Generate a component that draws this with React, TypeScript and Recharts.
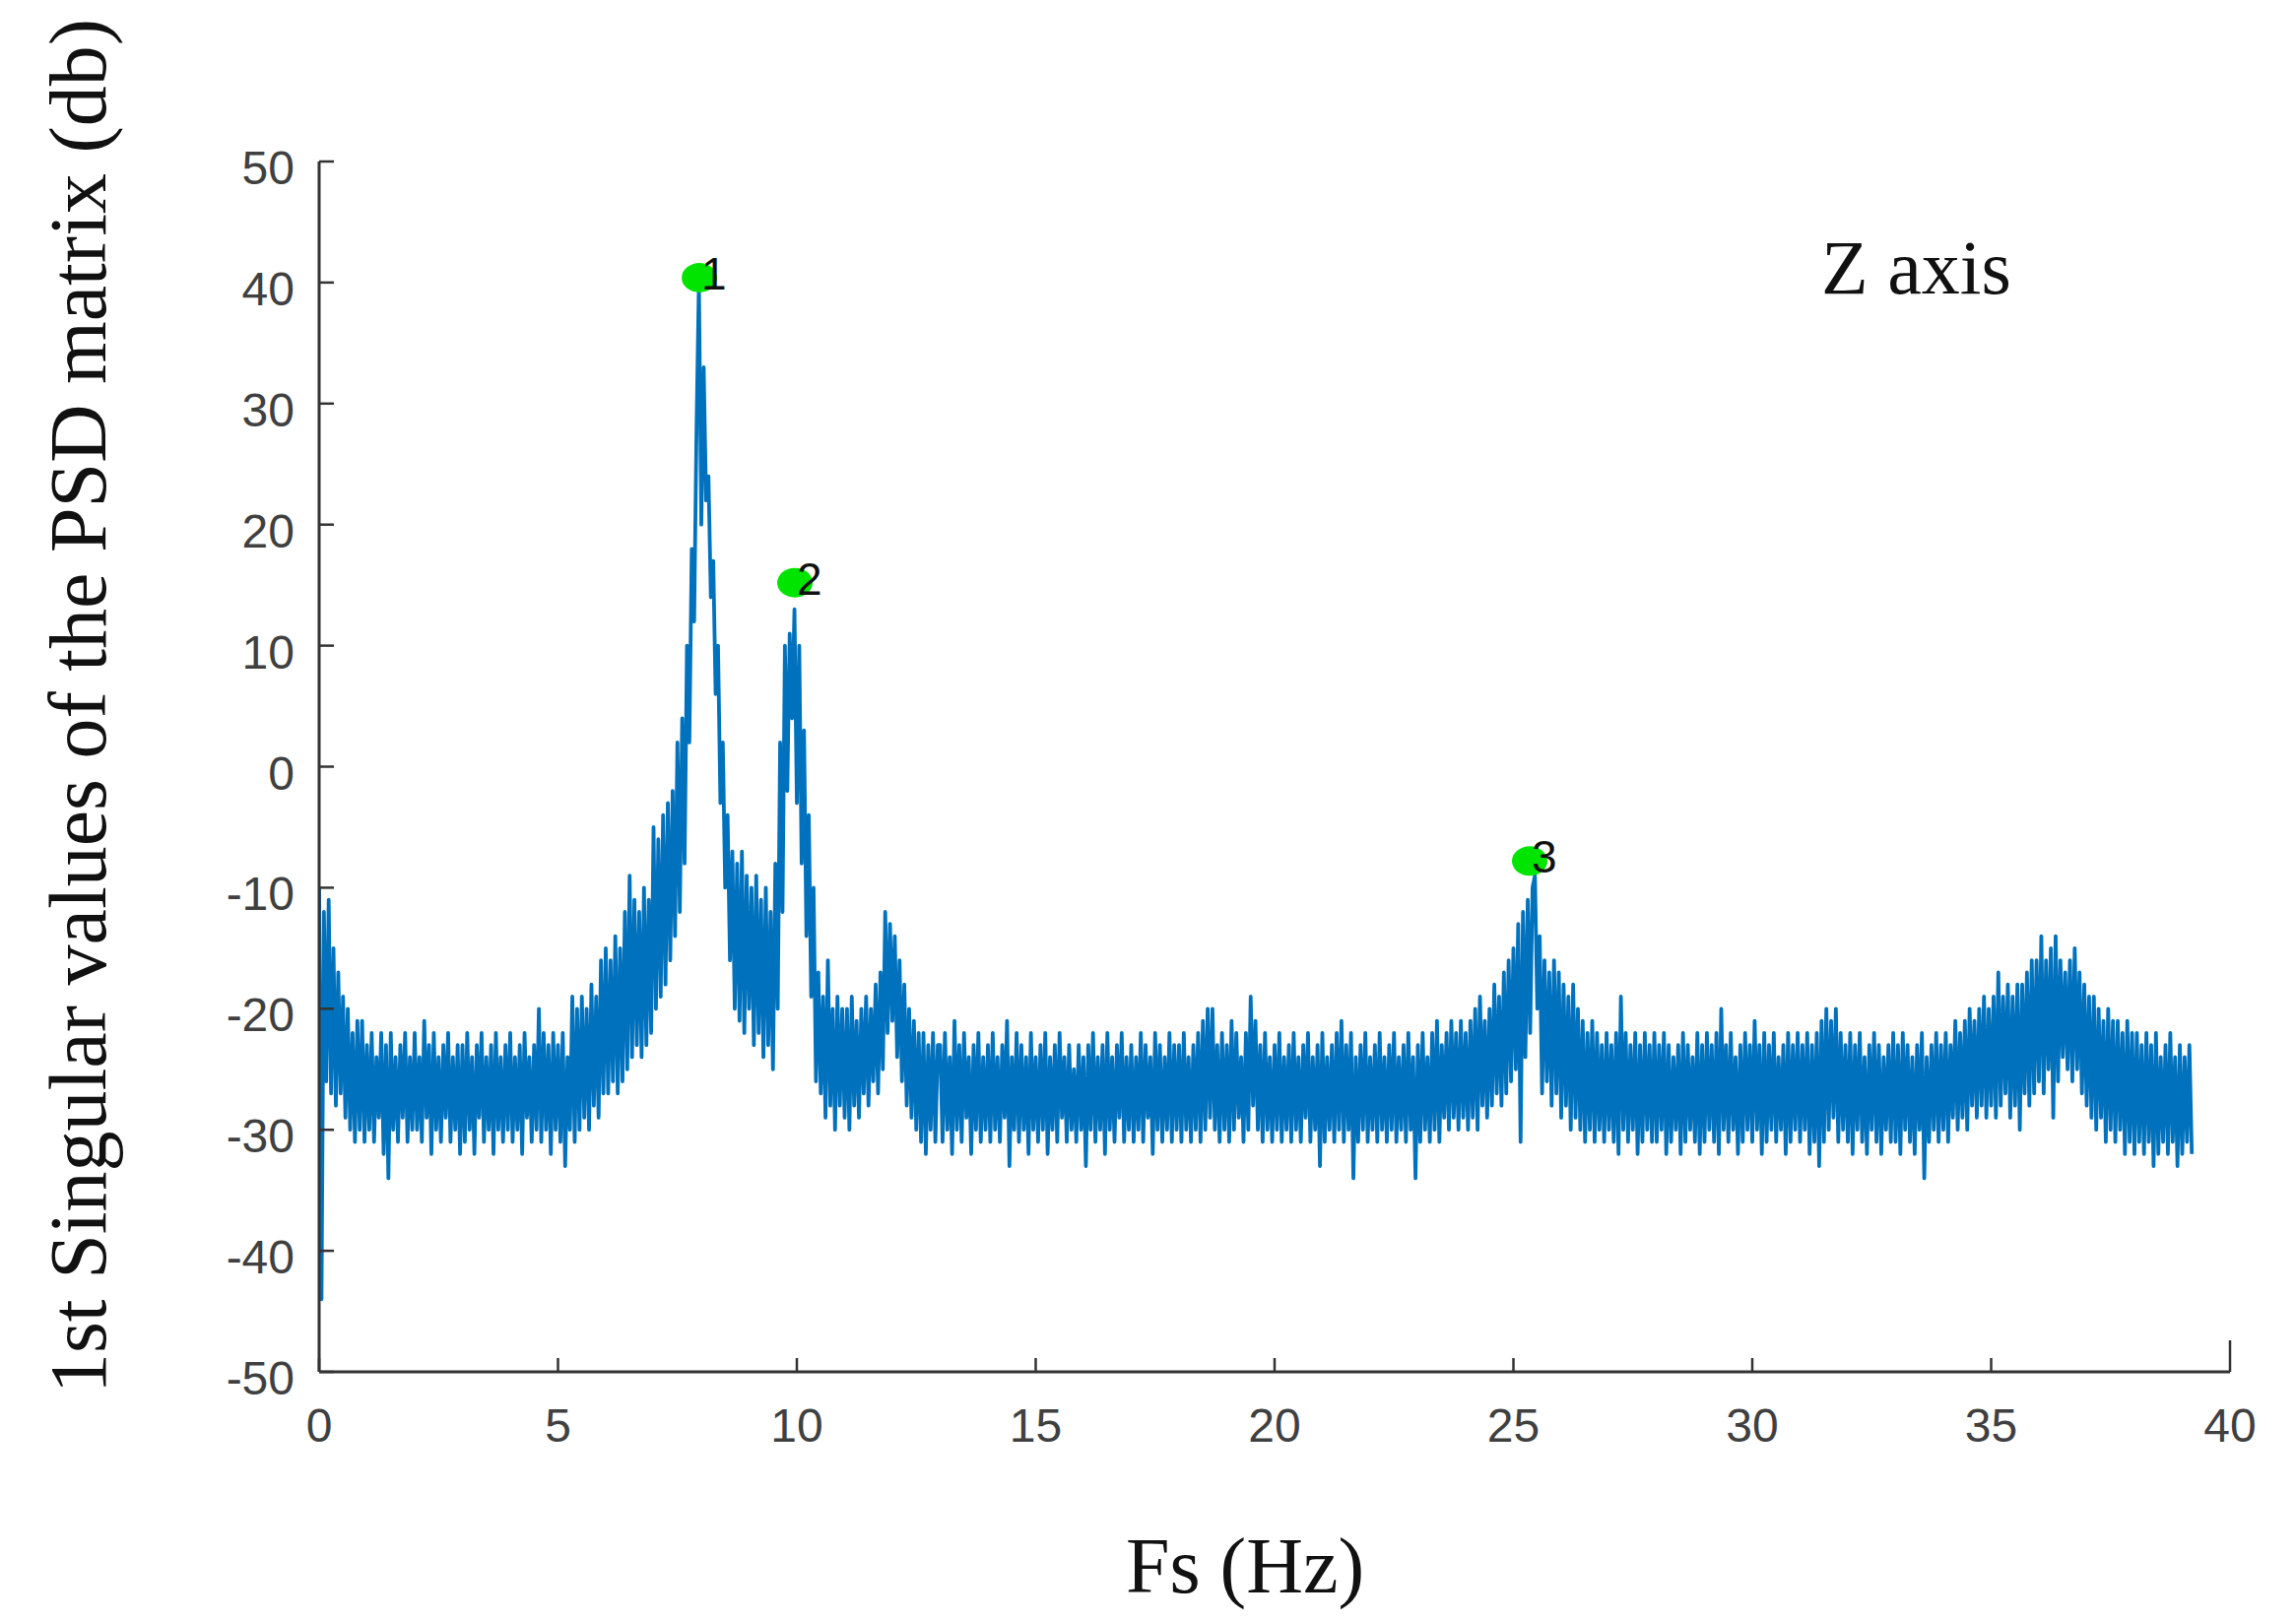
import React from 'react';
import {
  ComposedChart,
  Line,
  Scatter,
  XAxis,
  YAxis,
  Label,
  Customized,
} from 'recharts';

// frequency resolution of the spectrum (Hz per sample)
const FREQ_STEP = 0.05;

// 1st singular value of the PSD matrix (dB), one row per Hz (20 samples each)
const psdDb = [
  -10, -44, -12, -26, -11, -27, -15, -28, -17, -27, -19, -29, -20, -30, -22, -31, -21, -30, -21, -31, // 0
  -23, -30, -22, -31, -24, -29, -22, -32, -23, -34, -22, -30, -24, -31, -23, -29, -22, -31, -24, -30, // 1
  -22, -30, -24, -31, -21, -29, -23, -32, -22, -30, -24, -31, -23, -29, -22, -31, -24, -30, -23, -32, // 2
  -23, -31, -22, -30, -24, -32, -23, -29, -22, -31, -24, -30, -23, -32, -22, -30, -24, -31, -23, -30, // 3
  -22, -31, -24, -30, -23, -32, -22, -29, -24, -31, -23, -30, -20, -31, -22, -30, -23, -32, -22, -30, // 4
  -23, -31, -22, -33, -24, -30, -19, -31, -20, -30, -19, -29, -20, -30, -18, -28, -19, -29, -16, -27, // 5
  -15, -27, -16, -26, -14, -27, -15, -26, -12, -25, -9, -24, -11, -23, -12, -24, -10, -23, -11, -22, // 6
  -5, -20, -6, -19, -4, -18, -3, -16, -2, -14, 2, -12, 4, -8, 10, 2, 18, 12, 28, 40, // 7
  20, 33, 22, 24, 14, 17, 6, 10, -3, 2, -10, -4, -16, -7, -20, -8, -21, -7, -22, -9, // 8
  -20, -10, -23, -9, -22, -11, -24, -10, -23, -12, -25, -8, -20, 2, -12, 10, -2, 11, 4, 13, // 9
  -3, 10, -8, 3, -14, -4, -19, -10, -26, -17, -27, -19, -29, -16, -28, -20, -30, -19, -28, -20, // 10
  -29, -20, -30, -19, -28, -21, -29, -20, -27, -19, -28, -20, -26, -18, -27, -17, -25, -12, -22, -13, // 11
  -21, -14, -24, -16, -26, -18, -28, -20, -29, -21, -30, -22, -31, -22, -32, -23, -30, -22, -31, -23, // 12
  -23, -31, -22, -30, -24, -32, -21, -30, -23, -31, -22, -29, -24, -32, -23, -30, -22, -31, -24, -30, // 13
  -23, -31, -22, -30, -24, -31, -23, -29, -21, -33, -24, -30, -22, -31, -23, -30, -24, -32, -22, -30, // 14
  -24, -31, -23, -30, -22, -32, -24, -30, -23, -31, -22, -29, -24, -31, -23, -30, -25, -31, -23, -30, // 15
  -24, -33, -23, -30, -22, -31, -24, -30, -23, -32, -22, -30, -24, -31, -23, -29, -22, -31, -24, -30, // 16
  -23, -31, -24, -30, -22, -31, -23, -29, -24, -32, -22, -30, -23, -31, -24, -30, -22, -31, -23, -30, // 17
  -23, -31, -22, -30, -24, -31, -23, -30, -22, -31, -21, -30, -20, -29, -20, -30, -23, -31, -22, -30, // 18
  -23, -31, -21, -30, -22, -29, -24, -31, -22, -30, -19, -28, -21, -30, -23, -31, -22, -30, -24, -31, // 19
  -23, -30, -22, -31, -24, -30, -23, -31, -22, -30, -24, -31, -23, -29, -22, -31, -24, -30, -23, -33, // 20
  -22, -31, -24, -30, -23, -31, -22, -30, -21, -31, -23, -30, -22, -34, -24, -31, -23, -30, -22, -31, // 21
  -24, -30, -23, -31, -22, -30, -24, -31, -23, -30, -22, -31, -24, -30, -23, -31, -22, -30, -24, -34, // 22
  -23, -31, -22, -30, -24, -31, -22, -30, -21, -31, -23, -29, -22, -30, -21, -29, -22, -30, -21, -29, // 23
  -22, -30, -21, -29, -20, -30, -19, -28, -21, -29, -20, -28, -18, -27, -19, -28, -17, -27, -16, -26, // 24
  -15, -25, -13, -31, -12, -24, -11, -22, -10, -9, -20, -14, -27, -16, -26, -17, -28, -16, -27, -17, // 25
  -29, -18, -28, -19, -30, -18, -29, -20, -30, -21, -31, -22, -30, -21, -31, -22, -30, -23, -31, -22, // 26
  -30, -23, -31, -22, -32, -19, -30, -22, -31, -23, -30, -22, -32, -23, -31, -22, -30, -23, -31, -22, // 27
  -31, -23, -30, -22, -32, -23, -31, -24, -30, -23, -32, -22, -31, -23, -30, -24, -31, -22, -32, -23, // 28
  -31, -22, -30, -23, -31, -22, -32, -20, -30, -23, -31, -22, -30, -24, -32, -23, -31, -22, -30, -23, // 29
  -31, -21, -30, -23, -32, -22, -31, -23, -30, -22, -31, -24, -30, -23, -32, -22, -31, -23, -30, -22, // 30
  -31, -23, -30, -22, -32, -23, -31, -22, -33, -21, -31, -20, -30, -21, -29, -20, -31, -22, -30, -23, // 31
  -31, -22, -32, -23, -30, -22, -31, -24, -32, -23, -30, -22, -31, -23, -32, -24, -30, -23, -31, -22, // 32
  -31, -23, -32, -22, -30, -23, -31, -24, -32, -23, -30, -22, -34, -24, -31, -23, -30, -22, -31, -23, // 33
  -30, -22, -31, -23, -29, -21, -30, -22, -29, -21, -30, -20, -28, -21, -29, -20, -28, -19, -29, -20, // 34
  -28, -19, -29, -17, -28, -19, -27, -18, -29, -19, -28, -18, -30, -18, -27, -17, -28, -16, -27, -16, // 35
  -26, -14, -27, -16, -25, -15, -29, -14, -26, -16, -24, -17, -25, -16, -26, -15, -25, -17, -27, -18, // 36
  -28, -19, -29, -19, -30, -20, -29, -21, -31, -20, -30, -21, -31, -21, -30, -22, -32, -21, -31, -22, // 37
  -32, -22, -31, -23, -32, -22, -31, -23, -33, -22, -32, -24, -31, -23, -32, -22, -31, -24, -33, -23, // 38
  -32, -24, -31, -23, -32, // 39
];

// picked peaks (green markers)
const peakFreqs = [7.96, 9.96, 25.34];
const peakDb = [40.4, 15.2, -7.8];
const peakLabels = ['1', '2', '3'];

const xTicks = [0, 5, 10, 15, 20, 25, 30, 35, 40];
const yTicks = [-50, -40, -30, -20, -10, 0, 10, 20, 30, 40, 50];

const spectrum = psdDb.map((v, i) => ({ f: Math.round(i * FREQ_STEP * 100) / 100, v }));
const peaks = peakFreqs.map((f, i) => ({ f, v: peakDb[i], label: peakLabels[i] }));

const SANS = '"Liberation Sans", Arial, Helvetica, sans-serif';
const SERIF = '"Liberation Serif", "Times New Roman", serif';
const TICK_COLOR = '#404040';
const AXIS_COLOR = '#333333';

// MATLAB-style ticks: mark points inward, label sits outside
const XTick = (props: any) => {
  const { x, y, payload } = props;
  const len = payload.value === 40 ? 32 : 14;
  return (
    <g>
      <line x1={x} y1={y} x2={x} y2={y - len} stroke={AXIS_COLOR} strokeWidth={2.5} />
      <text x={x} y={y + 71} textAnchor="middle" fontFamily={SANS} fontSize={48} fill={TICK_COLOR}>
        {payload.value}
      </text>
    </g>
  );
};

const YTick = (props: any) => {
  const { x, y, payload } = props;
  return (
    <g>
      <line x1={x} y1={y} x2={x + 15} y2={y} stroke={AXIS_COLOR} strokeWidth={2.5} />
      <text x={x - 25} y={y + 23} textAnchor="end" fontFamily={SANS} fontSize={48} fill={TICK_COLOR}>
        {payload.value}
      </text>
    </g>
  );
};

const PeakMarker = (props: any) => {
  const { cx, cy, payload } = props;
  return (
    <g>
      <ellipse cx={cx} cy={cy} rx={18} ry={15} fill="#00e400" />
      <text x={cx + 2} y={cy + 12} fontFamily={SANS} fontSize={46} fill="#111">
        {payload.label}
      </text>
    </g>
  );
};

export default function App() {
  return (
    <div style={{ position: 'absolute', left: 0, top: 0, width: 2331, height: 1646, background: '#fff' }}>
      <ComposedChart
        width={2331}
        height={1646}
        margin={{ top: 164, right: 67, left: 0, bottom: 0 }}
      >
        <XAxis
          type="number"
          dataKey="f"
          domain={[0, 40]}
          ticks={xTicks}
          allowDataOverflow
          height={253}
          tickSize={0}
          tickMargin={0}
          tickLine={false}
          axisLine={{ stroke: AXIS_COLOR, strokeWidth: 3 }}
          tick={<XTick />}
          interval={0}
        >
          <Label
            content={() => (
              <text x={1264} y={1617} textAnchor="middle" fontFamily={SERIF} fontSize={80} fill="#111">
                Fs (Hz)
              </text>
            )}
          />
        </XAxis>
        <YAxis
          type="number"
          dataKey="v"
          domain={[-50, 50]}
          ticks={yTicks}
          allowDataOverflow
          width={324}
          tickSize={0}
          tickMargin={0}
          tickLine={false}
          axisLine={{ stroke: AXIS_COLOR, strokeWidth: 3 }}
          tick={<YTick />}
          interval={0}
        >
          <Label
            content={() => (
              <text
                transform="rotate(-90)"
                x={-717}
                y={107}
                textAnchor="middle"
                fontFamily={SERIF}
                fontSize={82}
                fill="#111"
              >
                1st Singular values of the PSD matrix (db)
              </text>
            )}
          />
        </YAxis>
        <Line
          data={spectrum}
          dataKey="v"
          type="linear"
          stroke="#0072BD"
          strokeWidth={3.8}
          strokeLinejoin="round"
          dot={false}
          activeDot={false}
          isAnimationActive={false}
        />
        <Scatter data={peaks} dataKey="v" shape={<PeakMarker />} isAnimationActive={false} />
        <Customized
          component={() => (
            <text x={1849} y={298} fontFamily={SERIF} fontSize={78} fill="#111">
              Z axis
            </text>
          )}
        />
      </ComposedChart>
    </div>
  );
}
